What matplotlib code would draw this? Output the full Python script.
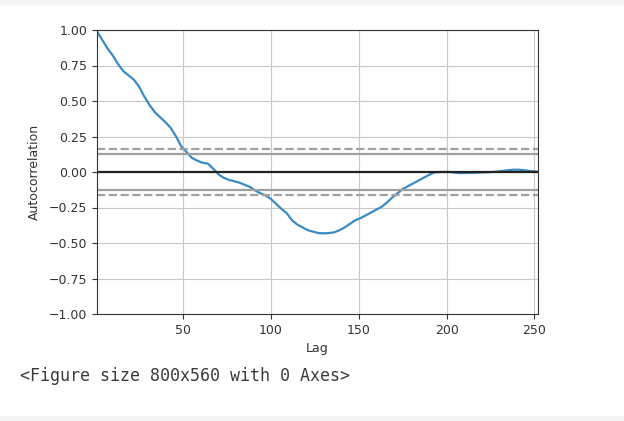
import matplotlib
matplotlib.use("Agg")
import matplotlib.pyplot as plt
import numpy as np

n = 252  # number of observations

lags = [1, 4, 7, 10, 13, 16, 19, 22, 25, 28, 31, 34, 37, 40, 43, 46, 49, 52, 55, 58,
        61, 64, 67, 70, 73, 76, 79, 82, 85, 88, 91, 94, 97, 100, 103, 106, 109, 112,
        115, 118, 121, 124, 127, 130, 133, 136, 139, 142, 145, 148, 151, 154, 157,
        160, 163, 166, 169, 172, 175, 178, 181, 184, 187, 190, 193, 196, 199, 202,
        205, 208, 211, 214, 217, 220, 223, 226, 229, 232, 235, 238, 241, 244, 247,
        250, 252]
acf = [0.99, 0.93, 0.87, 0.82, 0.76, 0.71, 0.68, 0.65, 0.60, 0.53, 0.47, 0.42, 0.385,
       0.35, 0.31, 0.25, 0.18, 0.14, 0.10, 0.08, 0.065, 0.06, 0.025, -0.015, -0.04,
       -0.055, -0.065, -0.075, -0.09, -0.105, -0.13, -0.15, -0.165, -0.19, -0.225,
       -0.26, -0.29, -0.34, -0.37, -0.39, -0.41, -0.42, -0.43, -0.432, -0.43, -0.425,
       -0.41, -0.39, -0.365, -0.34, -0.325, -0.305, -0.285, -0.265, -0.245, -0.215,
       -0.18, -0.15, -0.12, -0.10, -0.08, -0.06, -0.04, -0.02, -0.003, 0.0, 0.0, 0.0,
       -0.005, -0.008, -0.007, -0.006, -0.005, -0.003, -0.002, 0.0, 0.003, 0.008,
       0.013, 0.016, 0.016, 0.013, 0.008, 0.004, 0.002]

z95 = 1.959963984540054
z99 = 2.5758293035489004

fig = plt.figure(figsize=(6.24, 4.21), dpi=100)
# notebook output-cell background strips
fig.patches.append(plt.Rectangle((0, 1 - 4 / 421), 1, 4 / 421, transform=fig.transFigure,
                                 color="#f5f5f5", zorder=0))
fig.patches.append(plt.Rectangle((0, 0), 1, 5 / 421, transform=fig.transFigure,
                                 color="#f5f5f5", zorder=0))

ax = fig.add_axes([97 / 624, 1 - 314 / 421, 441 / 624, 284 / 421])
ax.plot(lags, acf, color="#3a8ac4", lw=1.6)
ax.axhline(y=z99 / np.sqrt(n), linestyle="--", color="#a0a0a0", lw=1.6)
ax.axhline(y=z95 / np.sqrt(n), color="#a0a0a0", lw=1.6)
ax.axhline(y=0.0, color="#222222", lw=1.6)
ax.axhline(y=-z95 / np.sqrt(n), color="#a0a0a0", lw=1.6)
ax.axhline(y=-z99 / np.sqrt(n), linestyle="--", color="#a0a0a0", lw=1.6)
ax.set_xlim(1, n)
ax.set_ylim(-1.0, 1.0)
ax.set_xticks([50, 100, 150, 200, 250])
ax.set_yticks(np.linspace(-1, 1, 9))
ax.tick_params(labelsize=9, colors="#333333")
for s in ax.spines.values():
    s.set_color("#333333")
ax.set_xlabel("Lag", fontsize=9, color="#333333")
ax.set_ylabel("Autocorrelation", fontsize=9, color="#333333", labelpad=6)
ax.grid(color="#c8c8c8")

fig.text(20 / 624, 1 - 376 / 421, "<Figure size 800x560 with 0 Axes>",
         family="DejaVu Sans Mono", fontsize=12, va="center", color="#3a3a3a")

fig.savefig("out.png", dpi=100)
